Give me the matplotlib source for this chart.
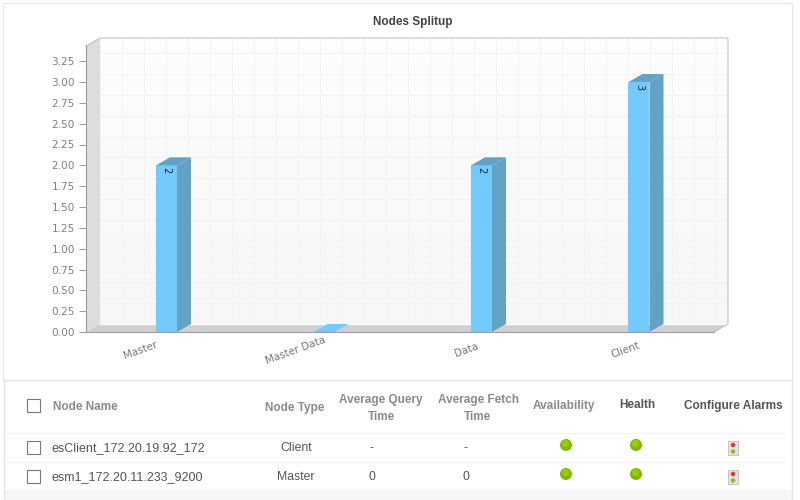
import matplotlib
matplotlib.use('Agg')
import matplotlib.pyplot as plt
import numpy as np
from matplotlib.patches import Polygon, Rectangle, Circle

plt.rcParams['font.family'] = ['Liberation Sans', 'DejaVu Sans']

categories = ['Master', 'Master Data', 'Data', 'Client']
node_counts = [2, 0, 2, 3]
y_ticks = [0.00, 0.25, 0.50, 0.75, 1.00, 1.25, 1.50, 1.75, 2.00, 2.25, 2.50, 2.75, 3.00, 3.25]

node_names = ['esClient_172.20.19.92_172', 'esm1_172.20.11.233_9200']
node_types = ['Client', 'Master']
query_times = ['-', '0']
fetch_times = ['-', '0']

W, H = 800, 500
fig = plt.figure(figsize=(8, 5), dpi=100, facecolor='white')

# pixel canvas for the panel borders and the table
bg = fig.add_axes([0, 0, 1, 1], zorder=0)
bg.set_xlim(0, W)
bg.set_ylim(H, 0)
bg.axis('off')

# front plane of the 3d chart
left, right, top, bottom = 86, 714, 46, 332
ax = fig.add_axes([left / W, 1 - bottom / H, (right - left) / W, (bottom - top) / H], zorder=1)
ax.patch.set_alpha(0)
unit_x = 157.5
unit_y = 250 / 3
x0 = -80.5 / unit_x
x1 = x0 + (right - left) / unit_x
y1 = (bottom - top) / unit_y
dx = 14 / unit_x
dy = 8 / unit_y
bar_w = 21 / unit_x

# back wall with a soft gradient
grad = np.linspace(0.99, 0.965, 50).reshape(-1, 1)
ax.imshow(grad, extent=(x0 + dx, x1 + dx, dy, y1 + dy), aspect='auto', cmap='gray',
          vmin=0, vmax=1, zorder=1, clip_on=False)
ax.set_xlim(x0, x1)
ax.set_ylim(0, y1)

for gx in np.arange(x0 + dx, x1 + dx, 22 / unit_x):
    ax.plot([gx, gx], [dy, y1 + dy], color='#f3f3f3', lw=0.7, zorder=1.5, clip_on=False)
for gy in y_ticks:
    ax.plot([x0 + dx, x1 + dx], [gy + dy, gy + dy], color='#f3f3f3', lw=0.7, zorder=1.5, clip_on=False)

# left wall and floor
ax.add_patch(Polygon([(x0, 0), (x0 + dx, dy), (x0 + dx, y1 + dy), (x0, y1)], closed=True,
                     fc='#dddddd', ec='none', zorder=2, clip_on=False))
ax.add_patch(Polygon([(x0, 0), (x1, 0), (x1 + dx, dy), (x0 + dx, dy)], closed=True,
                     fc='#d0d0d2', ec='none', zorder=2, clip_on=False))
ax.plot([x0 + dx, x1 + dx], [dy, dy], color='white', lw=1, zorder=2.5, clip_on=False)
ax.plot([x0, x0 + dx, x1 + dx, x1 + dx, x1], [y1, y1 + dy, y1 + dy, dy, 0],
        color='#bcbcbc', lw=0.7, zorder=2.5, clip_on=False)

# bars: front face by ax.bar, side and top by polygons
xs = np.arange(len(categories))
ax.bar(xs, node_counts, width=bar_w, color='#72caff', zorder=4)
for x, v in zip(xs, node_counts):
    l, r = x - bar_w / 2, x + bar_w / 2
    top_color = '#62a3c5' if v > 0 else '#72caff'
    ax.add_patch(Polygon([(l, v), (r, v), (r + dx, v + dy), (l + dx, v + dy)], closed=True,
                         fc=top_color, ec='none', zorder=4, clip_on=False))
    if v > 0:
        ax.add_patch(Polygon([(r, 0), (r + dx, dy), (r + dx, v + dy), (r, v)], closed=True,
                             fc='#62a3c5', ec='none', zorder=4, clip_on=False))
        ax.annotate(str(v), (x, v), xytext=(0, -2), textcoords='offset pixels', rotation=270,
                    ha='center', va='top', fontsize=7, color='#222222', family='DejaVu Sans', zorder=5)

ax.set_yticks(y_ticks)
ax.set_yticklabels([f'{t:.2f}' for t in y_ticks], fontsize=7.6, color='#808080', family='DejaVu Sans')
ax.set_xticks(xs)
ax.set_xticklabels([])
ax.tick_params(axis='y', length=5, width=0.7, color='#9a9aa0', pad=3)
ax.tick_params(axis='x', length=0)
for s in ['top', 'right']:
    ax.spines[s].set_visible(False)
for s in ['left', 'bottom']:
    ax.spines[s].set_color('#9a9aa0')
    ax.spines[s].set_linewidth(0.8)
    ax.spines[s].set_zorder(6)
# the labels do not sit at the same distance from their bars
label_shift = [-26, -28, -15, -14]
for x, name, shift in zip(xs, categories, label_shift):
    ax.annotate(name, (x, 0), xytext=(shift, -18), textcoords='offset pixels', rotation=20,
                rotation_mode='anchor', ha='center', va='center', fontsize=7.4, color='#777777',
                family='DejaVu Sans', annotation_clip=False)

# panel frame
bg.add_patch(Rectangle((3, 3), 789, 377, fc='white', ec='#e6e6e6', lw=0.8))
bg.plot([3, 792], [380, 380], color='#e6e6e6', lw=1)
bg.plot([3.5, 3.5], [380, 500], color='#e6e6e6', lw=1)
bg.plot([792, 792], [380, 500], color='#e6e6e6', lw=1)
bg.add_patch(Rectangle((4, 490), 788, 10, fc='#f6f6f6', ec='none'))
bg.text(413, 22, 'Nodes Splitup', ha='center', va='center', fontsize=8.5, fontweight='bold', color='#444444')

# table header
head = '#8b8b8b'
bg.text(53, 406.5, 'Node Name', ha='left', va='center', fontsize=8.5, fontweight='bold', color=head)
bg.text(295, 407.5, 'Node Type', ha='center', va='center', fontsize=8.5, fontweight='bold', color=head)
bg.text(381, 399.5, 'Average Query', ha='center', va='center', fontsize=8.5, fontweight='bold', color=head)
bg.text(381, 417.5, 'Time', ha='center', va='center', fontsize=8.5, fontweight='bold', color=head)
bg.text(478, 399.5, 'Average Fetch', ha='center', va='center', fontsize=8.5, fontweight='bold', color=head)
bg.text(478, 417.5, 'Time', ha='center', va='center', fontsize=8.5, fontweight='bold', color=head)
bg.text(564, 405.5, 'Availability', ha='center', va='center', fontsize=8.5, fontweight='bold', color=head)
bg.text(637, 405.5, 'Health', ha='center', va='center', fontsize=8.5, fontweight='bold', color='#555555')
bg.text(733, 405.5, 'Configure Alarms', ha='center', va='center', fontsize=8.5, fontweight='bold', color='#555555')

bg.plot([5, 785], [432.5, 432.5], color='#f3f3f3', lw=0.8)
bg.plot([5, 785], [461.5, 461.5], color='#f3f3f3', lw=0.8)


def checkbox(y):
    bg.add_patch(Rectangle((27, y - 6.5), 13, 13, fc='white', ec='#777777', lw=0.8))


def alarm_icon(y):
    bg.add_patch(Rectangle((728, y - 7), 10, 14, fc='#e6e6e6', ec='#c4c4c4', lw=0.7))
    bg.add_patch(Circle((733, y - 3), 2.3, fc='#e8392c', ec='none'))
    bg.add_patch(Circle((733, y + 3.5), 2.3, fc='#8cc21a', ec='none'))


checkbox(405.5)
row_y = [447, 476]
for i, y in enumerate(row_y):
    checkbox(y)
    bg.text(51, y + 1, node_names[i], ha='left', va='center', fontsize=9, color='#555555')
    bg.text(296, y + 1, node_types[i], ha='center', va='center', fontsize=8.8, color='#555555')
    bg.text(372, y + 1, query_times[i], ha='center', va='center', fontsize=8.8, color='#555555')
    bg.text(466, y + 1, fetch_times[i], ha='center', va='center', fontsize=8.8, color='#555555')
    for cx in [566, 636]:
        bg.add_patch(Circle((cx, y - 2), 6, fc='#82b800', ec='none'))
        bg.add_patch(Circle((cx - 0.5, y - 3.5), 3.5, fc='#96cc10', ec='none'))
    alarm_icon(y + 1)

fig.savefig('out.png', dpi=100)
